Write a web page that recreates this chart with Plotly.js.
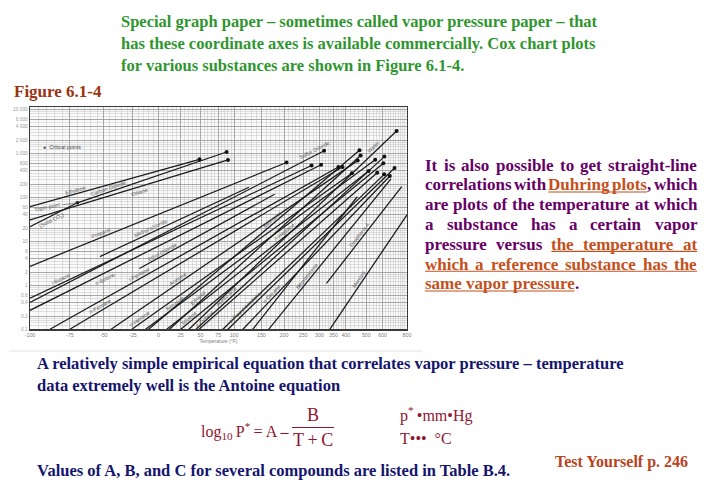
<!DOCTYPE html>
<html><head><meta charset="utf-8">
<script src="https://cdn.plot.ly/plotly-3.0.1.min.js"></script>
<style>html,body{margin:0;padding:0;background:#fff;}#chart{width:720px;height:498px;}</style>
</head><body><div id="chart"></div>
<script>
// ---------------- data ----------------
const substances = ['Ethylene','Carbon Dioxide','(Solid CO<sub>2</sub>)','Ethane','Propane','Methyl chloride','Sulfur Dioxide','i-Butane','n-Butane','i-Pentane','n-Pentane','Ethyl chloride','Acetone','n-Hexane','Benzene','Methanol','Ethanol','n-Heptane','Toluene','Water','Acetic acid','n-Octane','n-Nonane','n-Propyl benzene','n-Decane','','Nitrobenzene','Dowtherm A','Mercury'];
const tStart = [-100,-69.8,-100,-100,-100,-53,-100,-100,-100,-88,-75,-19,-44,-26,-13,-10,12,9,25,35,44,48,82,90,115,133,165,324,336];
const pStart = [61,75,21.5,30.5,2.7,4.5,0.41,0.51,0.27,0.1,0.1,2.4,0.1,0.1,0.1,0.1,0.1,0.1,0.1,0.1,0.1,0.1,0.1,0.1,0.1,0.1,0.1,1.11,0.1];
const tEnd = [48.6,87.9,-69.8,90.1,206,126,315.8,274.9,305.6,369,385.7,178,455,427,552,464,469.6,512.6,605.5,705.4,612,564.2,610.7,689,652,453,660,750,800];
const pEnd = [731,1070,75,708,617,169,1143,529,551,490,489,117,682,352,714,1174,891,397,596,3206,841,361,332,465,305,103,261,174,40];
const isCritical = [1,1,0,1,1,0,1,1,1,1,1,0,1,1,1,1,1,1,1,1,1,1,1,1,1,0,0,0,0];
const triplePointT = [-69.8];
const triplePointP = [75];

const xTickVals = [-100,-75,-50,-25,0,25,50,75,100,150,200,250,300,350,400,500,600,800];
const yTickVals = [0.1,0.2,0.4,0.6,1,2,4,6,10,20,40,60,100,200,400,600,1000,2000,4000,6000,10000];
const yTickText = ['0.1','0.2','0.4','0.6','1','2','4','6','10','20','40','60','100','200','400','600','1 000','2 000','4 000','6 000','10 000'];

// ---------------- Cox-chart temperature scale ----------------
const u = T => -1000/((T-32)*5/9 + 233);

// grid positions (graph-paper rulings)
const gridT = [];
for (let t=-100;t<100;t+=5) gridT.push(t);
for (let t=100;t<400;t+=10) gridT.push(t);
for (let t=400;t<=800;t+=20) gridT.push(t);
const gridP = [];
[0.1,1,10,100,1000].forEach(d=>[1,1.2,1.4,1.6,1.8,2,2.5,3,3.5,4,5,6,7,8,9].forEach(m=>gridP.push(+(m*d).toPrecision(3))));
gridP.push(10000);

// label placement (layout config)
const labelSpec = [
 [0,-70,4],[1,-45,4],[2,-88,-4],[3,-20,-5],[4,-51,4],[5,-6,4],[6,290,5],[7,-80,4],[8,-51,-5],
 [9,-17,4],[10,-51,4],[11,6,4],[12,24,4],[13,-17,4],[14,21,4],[15,177,4],[16,50,4],[17,206,4],
 [18,38,4],[19,560,5],[20,92,4],[21,59,4],[23,124,4],[24,177,4],[26,270,4],[27,478,4],[28,478,4]
];

// ---------------- geometry helpers ----------------
const W=720,H=498;
const X = p=>p/W, Y = p=>1-p/H;
const plotL=30, plotR=407, plotB=329.3, plotT=107.1;
const yRange=[-1,4.05];
const xRange=[u(-100),u(800)];
const pxPerU=(plotR-plotL)/(xRange[1]-xRange[0]);
const pxPerDec=(plotB-plotT)/(yRange[1]-yRange[0]);

const traces=[];
substances.forEach((s,i)=>{
  traces.push({type:'scatter',mode:'lines',x:[u(tStart[i]),u(tEnd[i])],y:[pStart[i],pEnd[i]],
    line:{color:'#1a1a1a',width:1.25},hoverinfo:'skip',showlegend:false});
});
const critIdx = substances.map((s,i)=>i).filter(i=>isCritical[i]);
traces.push({type:'scatter',mode:'markers',name:'Critical points',x:critIdx.map(i=>u(tEnd[i])),y:critIdx.map(i=>pEnd[i]),
  marker:{color:'#111',size:4},hoverinfo:'skip',showlegend:false});
traces.push({type:'scatter',mode:'markers',x:triplePointT.map(u),y:triplePointP,marker:{color:'#111',size:3.5},hoverinfo:'skip',showlegend:false});

const ann=[];
const lblFont={family:'Liberation Sans, Arial',size:5.3,color:'#555'};
labelSpec.forEach(([i,t,d])=>{
  const u1=u(tStart[i]),u2=u(tEnd[i]),L1=Math.log10(pStart[i]),L2=Math.log10(pEnd[i]);
  const ul=u(t), f=(ul-u1)/(u2-u1), Ll=L1+f*(L2-L1);
  const a=Math.atan2((L2-L1)*pxPerDec,(u2-u1)*pxPerU);
  ann.push({xref:'x',yref:'y',x:ul,y:Ll,text:substances[i],showarrow:false,textangle:-a*180/Math.PI,
    xshift:-d*Math.sin(a),yshift:d*Math.cos(a),font:lblFont,xanchor:'center',yanchor:'middle'});
});
ann.push({xref:'x',yref:'y',x:u(triplePointT[0]),y:Math.log10(triplePointP[0]),text:'Triple point',showarrow:true,
  ax:-30,ay:4,arrowhead:2,arrowsize:0.5,arrowwidth:0.6,arrowcolor:'#555',font:lblFont,textangle:-12});
ann.push({xref:'paper',yref:'paper',x:X(41),y:Y(147),xanchor:'left',yanchor:'middle',showarrow:false,
  text:'●  Critical points',font:{family:'Liberation Sans, Arial',size:5.3,color:'#444'}});

// ---------------- slide text ----------------
const serif='Liberation Serif, Times New Roman, serif';
function txt(str,x,y,size,color,opts){
  ann.push(Object.assign({xref:'paper',yref:'paper',x:X(x),y:Y(y),text:str,showarrow:false,xanchor:'left',yanchor:'middle',
    borderpad:0,borderwidth:0,font:{family:serif,size:size,color:color,weight:'bold'}},opts||{}));
}
const green='#2f962f', brown='#9a3412', navy='#15156e', purple='#660066', link='#c4501c', eqc='#8e1630';
txt('<b>Special graph paper – sometimes called vapor pressure paper – that</b>',121,22,16.5,green);
txt('<b>has these coordinate axes is available commercially. Cox chart plots</b>',121,44,16.5,green);
txt('<b>for various substances are shown in Figure 6.1-4.</b>',121,66,16.5,green);
txt('<b>Figure 6.1-4</b>',14,92,17,brown);
txt('<b>A relatively simple empirical equation that correlates vapor pressure – temperature</b>',37,363,16.5,navy);
txt('<b>data extremely well is the Antoine equation</b>',37,385,16.5,navy);
txt('<b>Values of A, B, and C for several compounds are listed in Table B.4.</b>',37,470,16.5,navy);
txt('<b>Test Yourself p. 246</b>',555,462,16,'#b8431c');

// equation
const eqFont={family:serif,size:16,color:eqc};
const th='\u2009';
ann.push({xref:'paper',yref:'paper',x:X(290),y:Y(431),xanchor:'right',yanchor:'middle',showarrow:false,borderpad:0,borderwidth:0,
  text:'log<sub>10</sub>'+th+'P<sup>*</sup>'+th+'='+th+'A'+th+'–',font:eqFont});
ann.push({xref:'paper',yref:'paper',x:X(313),y:Y(415),xanchor:'center',yanchor:'middle',showarrow:false,text:'B',font:{family:serif,size:18,color:eqc}});
ann.push({xref:'paper',yref:'paper',x:X(313),y:Y(440),xanchor:'center',yanchor:'middle',showarrow:false,text:'T'+th+'+'+th+'C',font:{family:serif,size:18,color:eqc}});
ann.push({xref:'paper',yref:'paper',x:X(400),y:Y(414),xanchor:'left',yanchor:'middle',showarrow:false,borderpad:0,borderwidth:0,text:'p<sup>*</sup>'+th+'•mm•Hg',font:eqFont});
ann.push({xref:'paper',yref:'paper',x:X(400),y:Y(438),xanchor:'left',yanchor:'middle',showarrow:false,borderpad:0,borderwidth:0,text:'T•••  °C',font:eqFont});

const shapes=[
  {type:'line',xref:'paper',yref:'paper',x0:X(292),x1:X(334),y0:Y(427.5),y1:Y(427.5),line:{color:eqc,width:1}},
  {type:'line',xref:'paper',yref:'paper',x0:X(9),x1:X(422),y0:Y(351),y1:Y(351),line:{color:'#e2e2e2',width:1}}
];

// justified paragraph
const para=[
 [['It',0],['is',0],['also',0],['possible',0],['to',0],['get',0],['straight-line',0]],
 [['correlations',0],['with',0],['Duhring',1],['plots',1],[',',0,1],['which',0]],
 [['are',0],['plots',0],['of',0],['the',0],['temperature',0],['at',0],['which',0]],
 [['a',0],['substance',0],['has',0],['a',0],['certain',0],['vapor',0]],
 [['pressure',0],['versus',0],['the',1],['temperature',1],['at',1]],
 [['which',1],['a',1],['reference',1],['substance',1],['has',1],['the',1]],
 [['same',1],['vapor',1],['pressure',1],['.',0,1]]
];
const pSize=17, pLeft=425, pRight=697, pY0=165, pDy=19.8;
const ctx=document.createElement('canvas').getContext('2d');
ctx.font='bold '+pSize+'px "Liberation Serif"';
const spaceW=ctx.measureText(' ').width;
para.forEach((line,li)=>{
  const groups=[];
  line.forEach(w=>{ if(w[2]) groups[groups.length-1].push(w); else groups.push([w]); });
  const gw=groups.map(g=>g.reduce((s,w)=>s+ctx.measureText(w[0]).width,0));
  const total=gw.reduce((a,b)=>a+b,0);
  const last = li===para.length-1;
  const gap = last? spaceW : (pRight-pLeft-total)/(groups.length-1);
  let x=pLeft; const yc=pY0+li*pDy;
  let runStart=null, runEnd=null;
  const flush=()=>{ if(runStart!==null){ shapes.push({type:'line',xref:'paper',yref:'paper',x0:X(runStart),x1:X(runEnd),y0:Y(yc+7.2),y1:Y(yc+7.2),line:{color:link,width:1.1}}); runStart=null; } };
  groups.forEach((g,gi)=>{
    g.forEach(w=>{
      const ww=ctx.measureText(w[0]).width;
      txt('<b>'+w[0]+'</b>',x,yc,pSize,w[1]?link:purple);
      if(w[1]){ if(runStart===null) runStart=x; runEnd=x+ww; } else flush();
      x+=ww;
    });
    x+=gap;
  });
  flush();
});

const axisFont={family:'Liberation Sans, Arial',size:5.3,color:'#808080'};
const layout={
  width:W,height:H,margin:{l:0,r:0,t:0,b:0,pad:0},paper_bgcolor:'#fff',plot_bgcolor:'#fafafa',showlegend:false,
  xaxis:{domain:[plotL/W,plotR/W],range:xRange,tickmode:'array',tickvals:xTickVals.map(u),ticktext:xTickVals.map(String),
    ticks:'',tickfont:axisFont,showgrid:true,gridcolor:'#9a9a9a',gridwidth:0.8,zeroline:false,
    minor:{tickmode:'array',tickvals:gridT.map(u),showgrid:true,gridcolor:'#c2c2c2',gridwidth:0.5,ticks:''},
    showline:true,mirror:true,linecolor:'#3a3a3a',linewidth:1.3,fixedrange:true,
    title:{text:'Temperature (°F)',font:{family:'Liberation Sans, Arial',size:5,color:'#808080'},standoff:2}},
  yaxis:{type:'log',domain:[1-plotB/H,1-plotT/H],range:yRange,tickmode:'array',tickvals:yTickVals,ticktext:yTickText,
    ticks:'',tickfont:{family:'Liberation Sans, Arial',size:4.8,color:'#999'},showgrid:true,gridcolor:'#9a9a9a',gridwidth:0.8,zeroline:false,
    minor:{tickmode:'array',tickvals:gridP,showgrid:true,gridcolor:'#c2c2c2',gridwidth:0.5,ticks:''},
    showline:true,mirror:true,linecolor:'#3a3a3a',linewidth:1.3,fixedrange:true},
  annotations:ann,shapes:shapes
};
Plotly.newPlot('chart',traces,layout,{staticPlot:true,displayModeBar:false});
</script></body></html>
